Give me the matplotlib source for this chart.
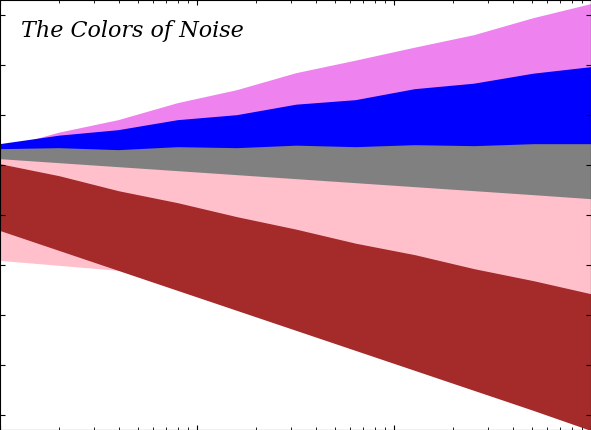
import numpy as np
import matplotlib
matplotlib.use("Agg")
import matplotlib.pyplot as plt

# frequency positions (log axis)
freq = [1, 2, 4, 8, 16, 32, 64, 128, 256, 512, 1000]
# envelopes (power, dB-like units)
violet_top = [13, 16.3, 18.8, 22.2, 24.8, 28.2, 30.7, 33.3, 35.8, 39.2, 42]
violet_bot = [10, 10.3, 10.7, 11, 11.4, 11.7, 12, 12.4, 12.7, 13, 13.4]
blue_top   = [14, 15.7, 16.8, 18.8, 19.8, 21.9, 22.8, 25.0, 26.1, 28.1, 29.4]
blue_bot   = [10, 10.3, 10.7, 11, 11.4, 11.7, 12, 12.4, 12.7, 13, 13.4]
gray_top   = [13, 13.2, 12.8, 13.4, 13.2, 13.7, 13.4, 13.8, 13.6, 14.0, 14]
gray_bot   = [9, 8.2, 7.3, 6.5, 5.6, 4.8, 4, 3.1, 2.3, 1.4, 0.6]
pink_top   = [11, 10.2, 9.4, 8.6, 7.8, 7, 6.2, 5.4, 4.6, 3.8, 3]
pink_bot   = [-9, -10, -11, -12, -13, -14, -15, -16, -17, -18, -19]
brown_top  = [10, 7.6, 4.6, 2.2, -0.6, -3.1, -5.9, -8.2, -11.0, -13.4, -16]
brown_bot  = [-3, -7, -11, -15, -19, -23, -27, -31, -35, -39, -43]

series = [
    (violet_top, violet_bot, "violet"),
    (blue_top, blue_bot, "blue"),
    (gray_top, gray_bot, "gray"),
    (pink_top, pink_bot, "pink"),
    (brown_top, brown_bot, "brown"),
]

fig = plt.figure(figsize=(5.91, 4.30), dpi=100)
ax = fig.add_axes([0, 0, 1, 1])
for top, bot, c in series:
    ax.fill_between(freq, bot, top, color=c, lw=1.2, edgecolor=c)

ax.set_xscale("log")
ax.set_xlim(1, 1000)
ax.set_ylim(-43, 43)
ax.tick_params(which="both", direction="in", top=True, right=True,
               labelbottom=False, labelleft=False)
ax.text(0.035, 0.915, "The Colors of Noise", transform=ax.transAxes,
        fontsize=16, fontstyle="italic", family="DejaVu Serif")
fig.savefig("out.png", dpi=100)
